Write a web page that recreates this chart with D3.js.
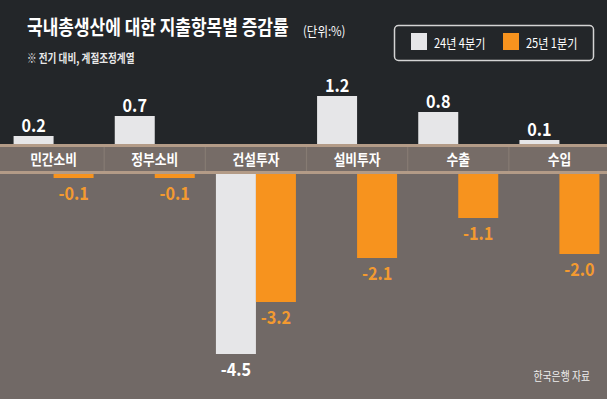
<!DOCTYPE html>
<html>
<head>
<meta charset="utf-8">
<script src="https://cdn.jsdelivr.net/npm/d3@7"></script>
<style>
  html, body { margin: 0; padding: 0; background: #232629; }
  svg { display: block; font-family: "Noto Sans CJK KR", "Noto Sans", sans-serif; }
</style>
</head>
<body>
<div id="chart"></div>
<script>
var categories = ['민간소비', '정부소비', '건설투자', '설비투자', '수출', '수입'];
var seriesNames = ['24년 4분기', '25년 1분기'];
var q4_2024 = [0.2, 0.7, -4.5, 1.2, 0.8, 0.1];
var q1_2025 = [-0.1, -0.1, -3.2, -2.1, -1.1, -2.0];

var COLOR_BG     = '#232629';
var COLOR_BAND   = '#766c67';
var COLOR_EDGE   = '#b39b87';
var COLOR_LOWER  = '#716966';
var COLOR_WHITE  = '#e6e6e8';
var COLOR_ORANGE = '#f7931e';
var COLOR_ORANGE_TXT = '#f39a30';

var W = 607, H = 399;
var BAND_TOP = 144, BAND_BOT = 174;

var svg = d3.select('#chart').append('svg')
  .attr('width', W).attr('height', H);

// the original font is condensed, so texts get a horizontal scale
function at(x, y, k) {
  return 'translate(' + x + ',' + y + ') scale(' + k + ',1)';
}

svg.append('rect').attr('width', W).attr('height', H).attr('fill', COLOR_BG);
svg.append('rect').attr('y', BAND_BOT).attr('width', W).attr('height', H - BAND_BOT).attr('fill', COLOR_LOWER);
svg.append('rect').attr('y', BAND_TOP).attr('width', W).attr('height', BAND_BOT - BAND_TOP).attr('fill', COLOR_EDGE);
svg.append('rect').attr('y', BAND_TOP + 3).attr('width', W).attr('height', BAND_BOT - BAND_TOP - 6).attr('fill', COLOR_BAND);

var x0 = d3.scaleBand().domain(categories).range([3, 610]);
var step = x0.bandwidth();
var x1 = d3.scaleBand().domain(seriesNames).range([step / 2 - 40, step / 2 + 40]);
var h = d3.scaleLinear().domain([0, 1]).range([0, 40]);

// separators in the category band
svg.append('g').selectAll('line')
  .data(categories.slice(1))
  .join('line')
  .attr('x1', function (d) { return x0(d); })
  .attr('x2', function (d) { return x0(d); })
  .attr('y1', BAND_TOP + 3).attr('y2', BAND_BOT - 3)
  .attr('stroke', '#867b73').attr('stroke-width', 1.2);

var rows = [];
categories.forEach(function (c, i) {
  rows.push({ cat: c, s: seriesNames[0], v: q4_2024[i] });
  rows.push({ cat: c, s: seriesNames[1], v: q1_2025[i] });
});

function barX(d) { return x0(d.cat) + x1(d.s); }
function barY(d) { return d.v >= 0 ? BAND_TOP - h(d.v) : BAND_BOT; }
function fillOf(d) { return d.s === seriesNames[0] ? COLOR_WHITE : COLOR_ORANGE; }

svg.append('g').selectAll('rect')
  .data(rows)
  .join('rect')
  .attr('x', barX)
  .attr('y', barY)
  .attr('width', x1.bandwidth())
  .attr('height', function (d) { return h(Math.abs(d.v)); })
  .attr('fill', fillOf);

svg.append('g').selectAll('text')
  .data(rows)
  .join('text')
  .attr('transform', function (d) {
    var x = barX(d) + x1.bandwidth() / 2;
    var y = d.v >= 0 ? BAND_TOP - h(d.v) - 4 : BAND_BOT + h(-d.v) + 22;
    return at(x, y, 0.9);
  })
  .attr('text-anchor', 'middle')
  .attr('font-size', 18).attr('font-weight', 700)
  .attr('fill', function (d) { return d.s === seriesNames[0] ? '#ffffff' : COLOR_ORANGE_TXT; })
  .text(function (d) { return d.v.toFixed(1); });

svg.append('g').selectAll('text')
  .data(categories)
  .join('text')
  .attr('transform', function (d) { return at(x0(d) + step / 2, 165, 0.88); })
  .attr('text-anchor', 'middle')
  .attr('font-size', 14.5).attr('font-weight', 700)
  .attr('fill', '#ffffff')
  .text(function (d) { return d; });

// title block
svg.append('text').attr('transform', at(27, 35, 0.85))
  .attr('font-size', 20).attr('font-weight', 700).attr('fill', '#ffffff')
  .text('국내총생산에 대한 지출항목별 증감률');
svg.append('text').attr('transform', at(303, 36, 0.88))
  .attr('font-size', 13).attr('fill', '#ffffff')
  .text('(단위:%)');
svg.append('text').attr('transform', at(27, 63, 0.8))
  .attr('font-size', 12).attr('font-weight', 700).attr('fill', '#e8e8e8')
  .text('※ 전기 대비, 계절조정계열');

// legend
var legend = svg.append('g');
legend.append('rect').attr('x', 394.5).attr('y', 25.5).attr('width', 199).attr('height', 35)
  .attr('rx', 4).attr('fill', 'none').attr('stroke', '#d4d4d4').attr('stroke-width', 1.5);
var items = legend.selectAll('g').data(seriesNames).join('g')
  .attr('transform', function (d, i) { return 'translate(' + (411 + i * 92) + ',33)'; });
items.append('rect').attr('width', 16).attr('height', 17)
  .attr('fill', function (d, i) { return i === 0 ? COLOR_WHITE : COLOR_ORANGE; });
items.append('text').attr('transform', at(23, 15, 0.85))
  .attr('font-size', 13).attr('fill', '#ffffff')
  .text(function (d) { return d; });

svg.append('text').attr('transform', at(590, 381, 0.82)).attr('text-anchor', 'end')
  .attr('font-size', 12).attr('fill', '#eeeeee')
  .text('한국은행 자료');
</script>
</body>
</html>
